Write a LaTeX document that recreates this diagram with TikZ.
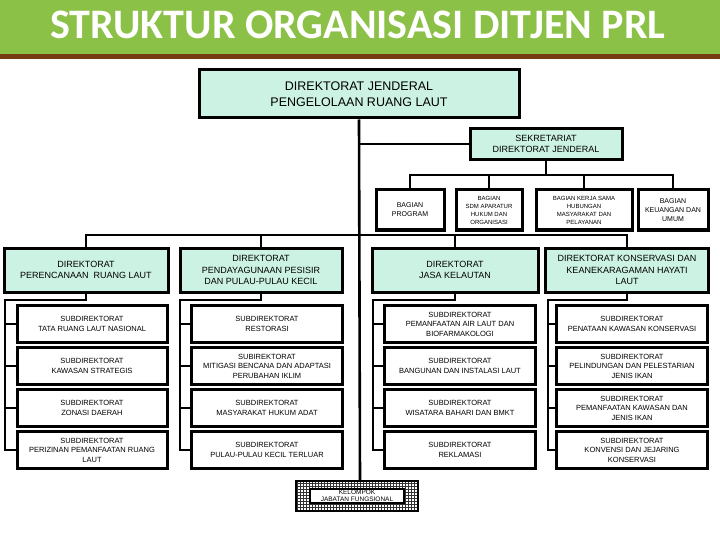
\documentclass[tikz,border=0pt]{standalone}
\usepackage{fontspec}
\setmainfont{Liberation Sans}
\newfontfamily\titlefont{Carlito}
\usetikzlibrary{patterns}
\definecolor{tgreen}{RGB}{139,193,71}
\definecolor{tbrown}{RGB}{120,60,20}
\definecolor{boxcyan}{RGB}{204,242,228}
\begin{document}
\begin{tikzpicture}[x=1pt,y=-1pt,
  bx/.style={draw=black,line width=3pt,fill=white,align=center,inner sep=1pt,font=\fontsize{7.5}{9.5}\selectfont},
  dir/.style={bx,fill=boxcyan,font=\fontsize{9}{11.5}\selectfont},
  ln/.style={line width=2.6pt}]
\useasboundingbox (0,0) rectangle (720,540);
\fill[white] (0,0) rectangle (720,540);
\fill[tgreen] (0,0) rectangle (720,54);
\fill[tbrown] (0,54) rectangle (720,59);
\node[text=white,font=\titlefont\bfseries\fontsize{42}{46}\selectfont] (title) at (358,25) {STRUKTUR ORGANISASI DITJEN PRL};
% top
\node[dir,font=\fontsize{12.5}{16}\selectfont,minimum width=320,minimum height=48] (top) at (359,94) {DIREKTORAT JENDERAL\\PENGELOLAAN RUANG LAUT};
\node[dir,minimum width=152,minimum height=31] (sek) at (546,144) {SEKRETARIAT\\DIREKTORAT JENDERAL};
\coordinate (t1) at (360,144);
\coordinate (t2) at (360,235);
\coordinate (t3) at (360,482);
% bagian
\node[bx,minimum width=68,minimum height=40,font=\fontsize{7}{9}\selectfont] (b1) at (410,210) {BAGIAN\\PROGRAM};
\node[bx,minimum width=66,minimum height=40,font=\fontsize{6}{8}\selectfont] (b2) at (489,210) {BAGIAN\\SDM APARATUR\\HUKUM DAN\\ORGANISASI};
\node[bx,minimum width=96,minimum height=40,font=\fontsize{6}{8}\selectfont] (b3) at (584,210) {BAGIAN KERJA SAMA\\HUBUNGAN\\MASYARAKAT DAN\\PELAYANAN};
\node[bx,minimum width=70,minimum height=40,font=\fontsize{7}{9}\selectfont] (b4) at (673,210) {BAGIAN\\KEUANGAN DAN\\UMUM};
\coordinate (bb) at (546,175);
% directorates
\node[dir,minimum width=164,minimum height=44] (d1) at (86,270) {DIREKTORAT\\PERENCANAAN\ \ RUANG LAUT};
\node[dir,minimum width=162,minimum height=44] (d2) at (261,270) {DIREKTORAT\\PENDAYAGUNAAN PESISIR\\DAN PULAU-PULAU KECIL};
\node[dir,minimum width=166,minimum height=44] (d3) at (455,270) {DIREKTORAT\\JASA KELAUTAN};
\node[dir,minimum width=163,minimum height=44] (d4) at (627,270) {DIREKTORAT KONSERVASI DAN\\KEANEKARAGAMAN HAYATI\\LAUT};
% subs
\foreach \c/\x/\bxx in {1/92/5,2/267/180,3/460/373,4/632/548}{
  \coordinate (k\c) at (\bxx,300);
}
\node[bx,minimum width=150,minimum height=37] (s11) at (92,324) {SUBDIREKTORAT\\TATA RUANG LAUT NASIONAL};
\node[bx,minimum width=150,minimum height=37] (s12) at (92,366) {SUBDIREKTORAT\\KAWASAN STRATEGIS};
\node[bx,minimum width=150,minimum height=37] (s13) at (92,408) {SUBDIREKTORAT\\ZONASI DAERAH};
\node[bx,minimum width=150,minimum height=37] (s14) at (92,450) {SUBDIREKTORAT\\PERIZINAN PEMANFAATAN RUANG\\LAUT};
\node[bx,minimum width=151,minimum height=37] (s21) at (267,324) {SUBDIREKTORAT\\RESTORASI};
\node[bx,minimum width=151,minimum height=37] (s22) at (267,366) {SUBIREKTORAT\\MITIGASI BENCANA DAN ADAPTASI\\PERUBAHAN IKLIM};
\node[bx,minimum width=151,minimum height=37] (s23) at (267,408) {SUBDIREKTORAT\\MASYARAKAT HUKUM ADAT};
\node[bx,minimum width=151,minimum height=37] (s24) at (267,450) {SUBDIREKTORAT\\PULAU-PULAU KECIL TERLUAR};
\node[bx,minimum width=151,minimum height=37] (s31) at (460,324) {SUBDIREKTORAT\\PEMANFAATAN AIR LAUT DAN\\BIOFARMAKOLOGI};
\node[bx,minimum width=151,minimum height=37] (s32) at (460,366) {SUBDIREKTORAT\\BANGUNAN DAN INSTALASI LAUT};
\node[bx,minimum width=151,minimum height=37] (s33) at (460,408) {SUBDIREKTORAT\\WISATARA BAHARI DAN BMKT};
\node[bx,minimum width=151,minimum height=37] (s34) at (460,450) {SUBDIREKTORAT\\REKLAMASI};
\node[bx,minimum width=151,minimum height=37] (s41) at (632,324) {SUBDIREKTORAT\\PENATAAN KAWASAN KONSERVASI};
\node[bx,minimum width=151,minimum height=37] (s42) at (632,366) {SUBDIREKTORAT\\PELINDUNGAN DAN PELESTARIAN\\JENIS IKAN};
\node[bx,minimum width=151,minimum height=37] (s43) at (632,408) {SUBDIREKTORAT\\PEMANFAATAN KAWASAN DAN\\JENIS IKAN};
\node[bx,minimum width=151,minimum height=37] (s44) at (632,450) {SUBDIREKTORAT\\KONVENSI DAN JEJARING\\KONSERVASI};
% kelompok
\node[draw,line width=2.2pt,minimum width=122,minimum height=30,pattern=grid,pattern color=black!80] (kj) at (357,496) {};
\node[draw,line width=2pt,fill=white,inner sep=1pt,minimum width=94,align=center,font=\fontsize{6.5}{7.5}\selectfont] (kji) at (357,496) {KELOMPOK\\JABATAN FUNGSIONAL};
% connectors
\draw[ln] (top.south) -- (t3);
\draw[ln] (t1) -- (sek.west);
\draw[ln] (sek.south) -- (bb);
\draw[ln] (b1.north) |- (bb) -| (b4.north);
\draw[ln] (b2.north) -- (b2.north |- bb);
\draw[ln] (b3.north) -- (b3.north |- bb);
\draw[ln] (d1.north) |- (t2) -| (d4.north);
\draw[ln] (d2.north) -- (d2.north |- t2);
\draw[ln] (d3.north) -- (d3.north |- t2);
\foreach \c in {1,2,3,4}{
  \draw[ln] (d\c.south) |- (k\c) |- (s\c4.west);
  \foreach \r in {1,2,3}{ \draw[ln] (k\c |- s\c\r.west) -- (s\c\r.west); }
}
\end{tikzpicture}
\end{document}
